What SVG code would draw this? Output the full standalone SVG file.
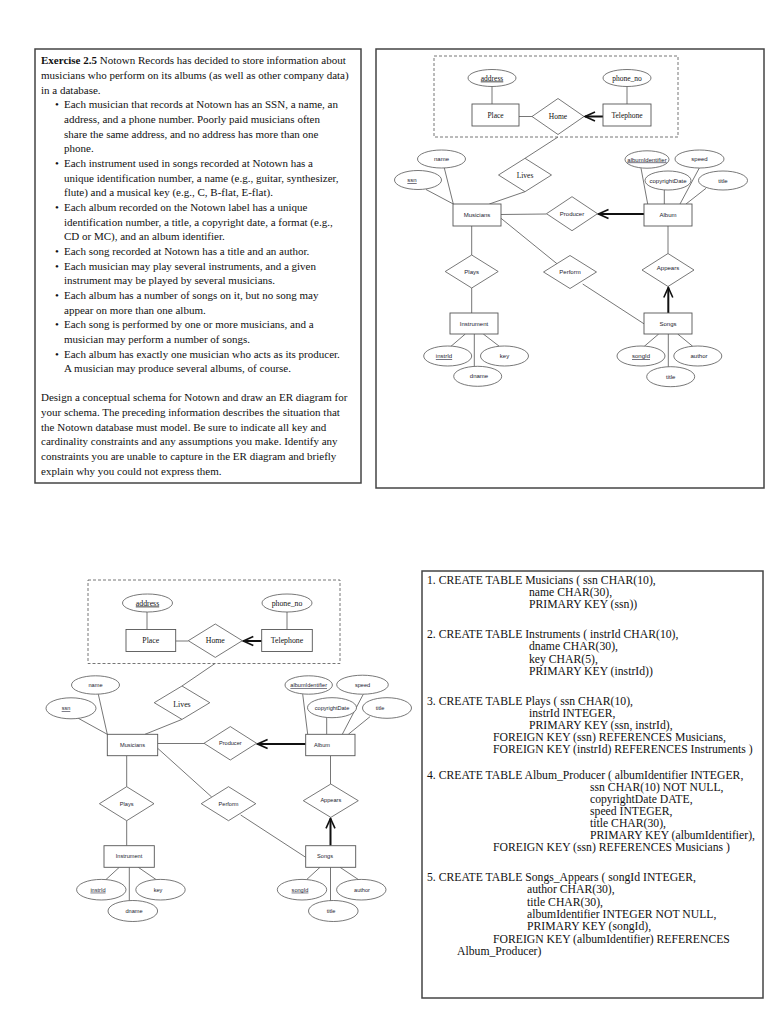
<svg xmlns="http://www.w3.org/2000/svg" width="768" height="1024" viewBox="0 0 768 1024">
<style>
.panel{fill:#fff;stroke:#444;stroke-width:1.5}
.t{font-family:"Liberation Serif","Times New Roman",serif;font-size:11px;fill:#111}
.sql{font-family:"Liberation Serif","Times New Roman",serif;font-size:11.7px;fill:#111}
.ent{fill:#fff;stroke:#555;stroke-width:0.9}
.att{fill:#fff;stroke:#555;stroke-width:0.8}
.rel{fill:#fff;stroke:#555;stroke-width:0.8}
.ln{stroke:#666;stroke-width:0.9;fill:none}
.thick{stroke:#111;stroke-width:2;fill:none}
.dash{fill:none;stroke:#666;stroke-width:0.9;stroke-dasharray:3,2}
.s1{font-family:"Liberation Sans",Arial,sans-serif;font-size:6px;fill:#1a1a2e;text-anchor:middle}
.r1{font-family:"Liberation Serif","Times New Roman",serif;font-size:7.5px;fill:#111;text-anchor:middle}
.s2{font-family:"Liberation Sans",Arial,sans-serif;font-size:5.6px;fill:#1a1a2e;text-anchor:middle}
.r2{font-family:"Liberation Serif","Times New Roman",serif;font-size:7.8px;fill:#111;text-anchor:middle}
.u{text-decoration:underline}
</style>
<defs>
<marker id="ah" markerUnits="userSpaceOnUse" markerWidth="14" markerHeight="12" viewBox="-12 -6 14 12" refX="0" refY="0" orient="auto">
<path d="M-10,-4.5 L0,0 L-10,4.5" fill="none" stroke="#111" stroke-width="1.6"/>
</marker>
</defs>
<rect width="768" height="1024" fill="#fff"/>

<!-- Top-left text panel -->
<g id="exercise-text">
<rect class="panel" x="35" y="49" width="326" height="434"/>
<g class="t">
<text x="41" y="64.2"><tspan font-weight="bold">Exercise 2.5</tspan> Notown Records has decided to store information about</text>
<text x="41" y="78.9">musicians who perform on its albums (as well as other company data)</text>
<text x="41" y="93.5">in a database.</text>
<text x="55" y="108.2">•</text><text x="64" y="108.2">Each musician that records at Notown has an SSN, a name, an</text>
<text x="64" y="122.8">address, and a phone number. Poorly paid musicians often</text>
<text x="64" y="137.5">share the same address, and no address has more than one</text>
<text x="64" y="152.2">phone.</text>
<text x="55" y="166.8">•</text><text x="64" y="166.8">Each instrument used in songs recorded at Notown has a</text>
<text x="64" y="181.5">unique identification number, a name (e.g., guitar, synthesizer,</text>
<text x="64" y="196.2">flute) and a musical key (e.g., C, B-flat, E-flat).</text>
<text x="55" y="210.8">•</text><text x="64" y="210.8">Each album recorded on the Notown label has a unique</text>
<text x="64" y="225.5">identification number, a title, a copyright date, a format (e.g.,</text>
<text x="64" y="240.2">CD or MC), and an album identifier.</text>
<text x="55" y="254.8">•</text><text x="64" y="254.8">Each song recorded at Notown has a title and an author.</text>
<text x="55" y="269.5">•</text><text x="64" y="269.5">Each musician may play several instruments, and a given</text>
<text x="64" y="284.1">instrument may be played by several musicians.</text>
<text x="55" y="298.8">•</text><text x="64" y="298.8">Each album has a number of songs on it, but no song may</text>
<text x="64" y="313.5">appear on more than one album.</text>
<text x="55" y="328.1">•</text><text x="64" y="328.1">Each song is performed by one or more musicians, and a</text>
<text x="64" y="342.8">musician may perform a number of songs.</text>
<text x="55" y="357.5">•</text><text x="64" y="357.5">Each album has exactly one musician who acts as its producer.</text>
<text x="64" y="372.1">A musician may produce several albums, of course.</text>
<text x="41" y="401.4">Design a conceptual schema for Notown and draw an ER diagram for</text>
<text x="41" y="416.1">your schema. The preceding information describes the situation that</text>
<text x="41" y="430.8">the Notown database must model. Be sure to indicate all key and</text>
<text x="41" y="445.4">cardinality constraints and any assumptions you make. Identify any</text>
<text x="41" y="460.1">constraints you are unable to capture in the ER diagram and briefly</text>
<text x="41" y="474.7">explain why you could not express them.</text>
</g>
</g>

<!-- Top-right ER panel -->
<rect class="panel" x="376" y="49" width="388" height="439"/>
<g id="tr-connectors">
<rect class="dash" x="434" y="56" width="244" height="81"/>
<line class="ln" x1="492" y1="86.5" x2="492" y2="104"/>
<line class="ln" x1="627" y1="86.5" x2="627" y2="104"/>
<line class="ln" x1="519" y1="116.5" x2="532" y2="116.5"/>
<line class="thick" x1="603" y1="116.5" x2="585" y2="116.5" marker-end="url(#ah)"/>
<line class="ln" x1="558" y1="137" x2="525" y2="158.3"/>
<line class="ln" x1="525" y1="191.7" x2="489.3" y2="204"/>
<line class="ln" x1="426" y1="189.5" x2="453.3" y2="204"/>
<line class="ln" x1="444.3" y1="168" x2="453.3" y2="204"/>
<line class="ln" x1="501" y1="214.5" x2="546.5" y2="214"/>
<line class="thick" x1="644" y1="214" x2="598.5" y2="214" marker-end="url(#ah)"/>
<line class="ln" x1="641" y1="168.2" x2="647.7" y2="204"/>
<line class="ln" x1="664.3" y1="190" x2="664.3" y2="204"/>
<line class="ln" x1="699.3" y1="168" x2="680" y2="204"/>
<line class="ln" x1="706" y1="188.3" x2="686" y2="204"/>
<line class="ln" x1="668" y1="226" x2="668" y2="253.5"/>
<line class="ln" x1="471.7" y1="226" x2="471.7" y2="255"/>
<line class="ln" x1="501" y1="218.3" x2="557.2" y2="263.9"/>
<line class="ln" x1="582.7" y1="284" x2="644.3" y2="324"/>
<line class="ln" x1="471.7" y1="288" x2="471.7" y2="313"/>
<line class="thick" x1="668.3" y1="313" x2="668.3" y2="287.5" marker-end="url(#ah)"/>
<line class="ln" x1="451" y1="346.3" x2="465.3" y2="334"/>
<line class="ln" x1="499.3" y1="346.3" x2="483.3" y2="334"/>
<line class="ln" x1="474.3" y1="366.3" x2="474.3" y2="334"/>
<line class="ln" x1="644.3" y1="346.3" x2="658.7" y2="334"/>
<line class="ln" x1="692.7" y1="346.3" x2="677.7" y2="334"/>
<line class="ln" x1="668.3" y1="366.7" x2="668.3" y2="334"/>
</g>
<g id="tr-address"><ellipse class="att" cx="492" cy="78" rx="24" ry="8.5"/><text class="r1 u" x="492" y="80.5">address</text></g>
<g id="tr-phone_no"><ellipse class="att" cx="627" cy="78" rx="24" ry="8.5"/><text class="r1" x="627" y="80.5">phone_no</text></g>
<g id="tr-place"><rect class="ent" x="472" y="104" width="47" height="22"/><text class="r1" x="495.5" y="117.5">Place</text></g>
<g id="tr-home"><polygon class="rel" points="532,116.5 558,98.5 584,116.5 558,134.5"/><text class="r1" x="558" y="119">Home</text></g>
<g id="tr-telephone"><rect class="ent" x="603" y="104" width="48" height="22"/><text class="r1" x="627" y="117.5">Telephone</text></g>
<g id="tr-lives"><polygon class="rel" points="498.5,175 525,158.3 551.5,175 525,191.7"/><text class="r1" x="525" y="178" font-size="9">Lives</text></g>
<g id="tr-name"><ellipse class="att" cx="441.5" cy="159" rx="24" ry="9"/><text class="s1" x="441.5" y="161">name</text></g>
<g id="tr-ssn"><ellipse class="att" cx="418" cy="180" rx="23.5" ry="9.5"/><text class="s1 u" x="412" y="182">ssn</text></g>
<g id="tr-musicians"><rect class="ent" x="453" y="204" width="48" height="22"/><text class="s1" x="477" y="217">Musicians</text></g>
<g id="tr-producer"><polygon class="rel" points="546.5,213.7 572,196.7 597.5,213.7 572,230.7"/><text class="s1" x="572" y="216">Producer</text></g>
<g id="tr-album"><rect class="ent" x="644" y="204" width="48" height="22"/><text class="s1" x="668" y="217">Album</text></g>
<g id="tr-albumidentifier"><ellipse class="att" cx="647" cy="159.5" rx="22" ry="8.7"/><text class="s1 u" x="647" y="161.5" font-size="5.2">albumIdentifier</text></g>
<g id="tr-speed"><ellipse class="att" cx="699.5" cy="159" rx="24.5" ry="9"/><text class="s1" x="699.5" y="161">speed</text></g>
<g id="tr-copyrightdate"><ellipse class="att" cx="668" cy="180.5" rx="23" ry="9.5"/><text class="s1" x="668" y="182.5" font-size="5.2">copyrightDate</text></g>
<g id="tr-title-album"><ellipse class="att" cx="723" cy="180.5" rx="24.5" ry="9.5"/><text class="s1" x="723" y="182.5">title</text></g>
<g id="tr-plays"><polygon class="rel" points="445.2,271.5 471.7,255 498.2,271.5 471.7,288"/><text class="s1" x="471.7" y="273.5">Plays</text></g>
<g id="tr-perform"><polygon class="rel" points="543.5,272 570,255.5 596.5,272 570,288.5"/><text class="s1" x="570" y="274">Perform</text></g>
<g id="tr-appears"><polygon class="rel" points="642,270 668,253.5 694,270 668,286.5"/><text class="s1" x="668" y="270">Appears</text></g>
<g id="tr-instrument"><rect class="ent" x="450" y="313" width="48" height="21"/><text class="s1" x="474" y="325.5">Instrument</text></g>
<g id="tr-songs"><rect class="ent" x="644" y="313" width="48" height="21"/><text class="s1" x="668" y="325.5">Songs</text></g>
<g id="tr-instrid"><ellipse class="att" cx="447.7" cy="356" rx="24" ry="10"/><text class="s1 u" x="444" y="358">instrId</text></g>
<g id="tr-key"><ellipse class="att" cx="504.5" cy="356" rx="24" ry="10"/><text class="s1" x="504.5" y="358">key</text></g>
<g id="tr-dname"><ellipse class="att" cx="477.7" cy="376.3" rx="24" ry="10"/><text class="s1" x="479" y="378.3">dname</text></g>
<g id="tr-songid"><ellipse class="att" cx="641" cy="356" rx="24" ry="10"/><text class="s1 u" x="641" y="358">songId</text></g>
<g id="tr-author"><ellipse class="att" cx="697.8" cy="356" rx="24" ry="10"/><text class="s1" x="699" y="358">author</text></g>
<g id="tr-title-song"><ellipse class="att" cx="670.7" cy="376.7" rx="24" ry="10"/><text class="s1" x="670.7" y="378.7">title</text></g>

<!-- Bottom-left ER diagram -->
<g id="bl-connectors">
<rect class="dash" x="88" y="580" width="252" height="83.5"/>
<line class="ln" x1="147" y1="612" x2="147" y2="629.5"/>
<line class="ln" x1="287" y1="612" x2="287" y2="629.5"/>
<line class="ln" x1="175.7" y1="641" x2="188.3" y2="641"/>
<line class="thick" x1="261.7" y1="641" x2="243.3" y2="641" marker-end="url(#ah)"/>
<line class="ln" x1="215" y1="663.5" x2="182" y2="686"/>
<line class="ln" x1="182" y1="719.4" x2="145" y2="734.3"/>
<line class="ln" x1="78.3" y1="718.3" x2="107.3" y2="734.3"/>
<line class="ln" x1="98.3" y1="694.2" x2="107.3" y2="734.3"/>
<line class="ln" x1="157.7" y1="743.5" x2="204" y2="743.5"/>
<line class="thick" x1="305.7" y1="744" x2="257.6" y2="744" marker-end="url(#ah)"/>
<line class="ln" x1="302.7" y1="694.2" x2="307.7" y2="734.3"/>
<line class="ln" x1="326.7" y1="717.7" x2="326.7" y2="734.3"/>
<line class="ln" x1="363.3" y1="694.2" x2="342.3" y2="734.3"/>
<line class="ln" x1="370" y1="716.7" x2="348.3" y2="734.3"/>
<line class="ln" x1="126.7" y1="755.7" x2="126.7" y2="786.7"/>
<line class="ln" x1="157.7" y1="748.3" x2="211.7" y2="797"/>
<line class="ln" x1="240.7" y1="815" x2="305.7" y2="857.3"/>
<line class="ln" x1="330.5" y1="755.7" x2="330.5" y2="784"/>
<line class="ln" x1="126.7" y1="820.7" x2="126.7" y2="845.7"/>
<line class="thick" x1="330.5" y1="845.7" x2="330.5" y2="818.4" marker-end="url(#ah)"/>
<line class="ln" x1="106" y1="879.5" x2="119.3" y2="867.3"/>
<line class="ln" x1="156" y1="879.5" x2="138.3" y2="867.3"/>
<line class="ln" x1="129.3" y1="900.6" x2="129.3" y2="867.3"/>
<line class="ln" x1="306.7" y1="879.5" x2="320" y2="867.3"/>
<line class="ln" x1="358.3" y1="879.5" x2="340" y2="867.3"/>
<line class="ln" x1="330.5" y1="900.6" x2="330.5" y2="867.3"/>
</g>
<g id="bl-address"><ellipse class="att" cx="147.5" cy="603" rx="25" ry="9"/><text class="r2 u" x="147.5" y="605.5">address</text></g>
<g id="bl-phone_no"><ellipse class="att" cx="287" cy="603" rx="25" ry="9"/><text class="r2" x="287" y="605.5">phone_no</text></g>
<g id="bl-place"><rect class="ent" x="126" y="629.5" width="49.7" height="22"/><text class="r2" x="150.8" y="643">Place</text></g>
<g id="bl-home"><polygon class="rel" points="188.3,640.7 215.3,624 242.3,640.7 215.3,657.4"/><text class="r2" x="215.3" y="643.3">Home</text></g>
<g id="bl-telephone"><rect class="ent" x="261.7" y="629.5" width="50.6" height="22"/><text class="r2" x="287" y="643">Telephone</text></g>
<g id="bl-lives"><polygon class="rel" points="154.2,702.7 182,686 209.8,702.7 182,719.4"/><text class="r2" x="182" y="706.5" font-size="10.5">Lives</text></g>
<g id="bl-name"><ellipse class="att" cx="95.5" cy="685" rx="24" ry="9.2"/><text class="s2" x="95.5" y="687">name</text></g>
<g id="bl-ssn"><ellipse class="att" cx="71" cy="708.3" rx="25" ry="10.5"/><text class="s2 u" x="66" y="710.3">ssn</text></g>
<g id="bl-musicians"><rect class="ent" x="107.3" y="734.3" width="50.4" height="21.4"/><text class="s2" x="132.5" y="747">Musicians</text></g>
<g id="bl-producer"><polygon class="rel" points="204,743.3 230.3,726.6 256.6,743.3 230.3,760"/><text class="s2" x="230.3" y="745.3">Producer</text></g>
<g id="bl-album"><rect class="ent" x="305.7" y="734.3" width="49.3" height="21.4"/><text class="s2" x="322" y="747">Album</text></g>
<g id="bl-albumidentifier"><ellipse class="att" cx="308.7" cy="685" rx="23.7" ry="9.2"/><text class="s2 u" x="308.7" y="687" font-size="5">albumIdentifier</text></g>
<g id="bl-speed"><ellipse class="att" cx="362.5" cy="684.7" rx="25.8" ry="9.5"/><text class="s2" x="362.5" y="686.7">speed</text></g>
<g id="bl-copyrightdate"><ellipse class="att" cx="332" cy="707.7" rx="24.5" ry="10"/><text class="s2" x="332" y="709.7" font-size="5">copyrightDate</text></g>
<g id="bl-title-album"><ellipse class="att" cx="387" cy="708" rx="24.5" ry="10.3"/><text class="s2" x="380" y="710">title</text></g>
<g id="bl-plays"><polygon class="rel" points="99.4,803.7 126.7,786.7 154,803.7 126.7,820.7"/><text class="s2" x="126.7" y="805.7">Plays</text></g>
<g id="bl-perform"><polygon class="rel" points="201.2,803.7 228.5,786.7 255.8,803.7 228.5,820.7"/><text class="s2" x="228.5" y="805.7">Perform</text></g>
<g id="bl-appears"><polygon class="rel" points="303.3,800.7 330.8,784 358.3,800.7 330.8,817.4"/><text class="s2" x="330.8" y="802">Appears</text></g>
<g id="bl-instrument"><rect class="ent" x="104" y="845.7" width="50.3" height="21.6"/><text class="s2" x="129" y="858.3">Instrument</text></g>
<g id="bl-songs"><rect class="ent" x="305.7" y="845.7" width="50" height="21.6"/><text class="s2" x="325" y="858.3">Songs</text></g>
<g id="bl-instrid"><ellipse class="att" cx="101.3" cy="889.7" rx="24.7" ry="10.3"/><text class="s2 u" x="98" y="891.7">instrId</text></g>
<g id="bl-key"><ellipse class="att" cx="160.5" cy="889.7" rx="24.7" ry="10.3"/><text class="s2" x="158" y="891.7">key</text></g>
<g id="bl-dname"><ellipse class="att" cx="132.8" cy="911" rx="24.8" ry="10.5"/><text class="s2" x="134" y="913">dname</text></g>
<g id="bl-songid"><ellipse class="att" cx="302" cy="889.7" rx="24.7" ry="10.3"/><text class="s2 u" x="300" y="891.7">songId</text></g>
<g id="bl-author"><ellipse class="att" cx="361.3" cy="889.7" rx="24.7" ry="10.3"/><text class="s2" x="362" y="891.7">author</text></g>
<g id="bl-title-song"><ellipse class="att" cx="333.3" cy="911" rx="24.8" ry="10.5"/><text class="s2" x="331" y="913">title</text></g>

<!-- Bottom-right SQL panel -->
<g id="sql-text">
<rect class="panel" x="422" y="571" width="341" height="427"/>
<g class="sql">
<text x="427" y="584">1. CREATE TABLE Musicians ( ssn CHAR(10),</text>
<text x="529" y="596">name CHAR(30),</text>
<text x="529" y="608">PRIMARY KEY (ssn))</text>
<text x="427" y="638">2. CREATE TABLE Instruments ( instrId CHAR(10),</text>
<text x="529" y="650.3">dname CHAR(30),</text>
<text x="529" y="662.6">key CHAR(5),</text>
<text x="529" y="675">PRIMARY KEY (instrId))</text>
<text x="427" y="705">3. CREATE TABLE Plays ( ssn CHAR(10),</text>
<text x="529" y="717">instrId INTEGER,</text>
<text x="529" y="729">PRIMARY KEY (ssn, instrId),</text>
<text x="493" y="741">FOREIGN KEY (ssn) REFERENCES Musicians,</text>
<text x="493" y="753">FOREIGN KEY (instrId) REFERENCES Instruments )</text>
<text x="427" y="779">4. CREATE TABLE Album_Producer ( albumIdentifier INTEGER,</text>
<text x="590" y="791">ssn CHAR(10) NOT NULL,</text>
<text x="590" y="803">copyrightDate DATE,</text>
<text x="590" y="815">speed INTEGER,</text>
<text x="590" y="827">title CHAR(30),</text>
<text x="590" y="839">PRIMARY KEY (albumIdentifier),</text>
<text x="493" y="851">FOREIGN KEY (ssn) REFERENCES Musicians )</text>
<text x="427" y="881">5. CREATE TABLE Songs_Appears ( songId INTEGER,</text>
<text x="527" y="893.3">author CHAR(30),</text>
<text x="527" y="905.6">title CHAR(30),</text>
<text x="527" y="918">albumIdentifier INTEGER NOT NULL,</text>
<text x="527" y="930.3">PRIMARY KEY (songId),</text>
<text x="493" y="942.6">FOREIGN KEY (albumIdentifier) REFERENCES</text>
<text x="457" y="955">Album_Producer)</text>
</g>
</g>
</svg>
